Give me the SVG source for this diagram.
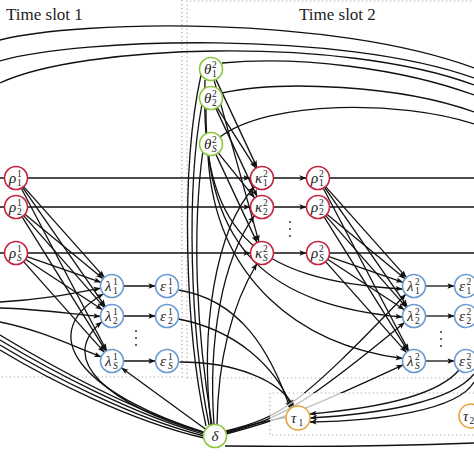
<svg xmlns="http://www.w3.org/2000/svg" width="474" height="474" viewBox="0 0 474 474">
<style>
.n circle{fill:#fff;stroke-width:1.6}
.red circle{stroke:#c3243f}
.blue circle{stroke:#6a9ad0}
.green circle{stroke:#8dc640}
.orange circle{stroke:#e6a43a}
.m{font-family:"Liberation Serif","DejaVu Serif",serif;font-style:italic;font-size:15px;fill:#222}
.s{font-size:9.5px;font-style:normal}
.si{font-size:9.5px;font-style:italic}
.e{fill:none;stroke:#111;stroke-width:1.3}
.a{marker-end:url(#ah)}
.dot{fill:none;stroke:#aaa;stroke-width:1.2;stroke-dasharray:1.2 2.8}
.lbl{font-family:"Liberation Serif","DejaVu Serif",serif;font-size:17px;fill:#222}
</style>
<defs>
<marker id="ah" markerUnits="userSpaceOnUse" markerWidth="8" markerHeight="6" refX="7" refY="2.7" orient="auto" overflow="visible"><path d="M0,0 L7,2.7 L0,5.4 L1.5,2.7 z" fill="#111"/></marker>
<clipPath id="inBox"><rect x="270" y="393" width="204" height="42"/></clipPath>
<clipPath id="outBox"><path d="M0,0H474V474H0Z M270,393V435H474V393Z" clip-rule="evenodd"/></clipPath>
<g id="thru" fill="none" stroke-width="1.3">
<path d="M226,432 C250,425 270,420 286,417.5"/>
<path d="M226,431 C280,418 300,405 406,294" marker-end="url(#ah)"/>
<path d="M226,433 C280,419 305,405 404.8,322.3" marker-end="url(#ah)"/>
<path d="M226,434 C280,420 310,408 403.1,364.8" marker-end="url(#ah)"/>
</g>
</defs>
<rect width="474" height="474" fill="#fff"/>

<g id="frames">
<path class="dot" d="M182,0V377H0"/>
<path class="dot" d="M187,378V1H474M187,378H474"/>
<path class="dot" d="M474,393H270V435H474"/>
</g>
<text class="lbl" x="6" y="20">Time slot 1</text>
<text class="lbl" x="299" y="20">Time slot 2</text>

<g id="connectors">
<path class="e" d="M0,40 C80,20 330,15 474,68"/>
<path class="e" d="M0,61 C80,38 340,30 474,78"/>
<path class="e" d="M0,83 C80,45 340,35 474,85"/>
<path class="e" d="M222,63 C300,56 400,68 474,95"/>
<path class="e" d="M222,93 C280,80 400,85 474,112"/>
<path class="e" d="M220,137 C270,100 400,100 474,124"/>
<path class="e" d="M0,178H4.5M0,207H4.5M0,253H4.5"/>
<path class="e a" d="M27.5,178H250.5"/>
<path class="e a" d="M27.5,207H250.5"/>
<path class="e a" d="M27.5,253H250.5"/>
<path class="e a" d="M23.6,186.6L104.4,277.4"/>
<path class="e a" d="M22.6,187.4L105.4,306.6"/>
<path class="e a" d="M21.3,188.2L106.7,350.8"/>
<path class="e a" d="M24.9,214.3L103.1,278.7"/>
<path class="e a" d="M23.6,215.6L104.4,307.4"/>
<path class="e a" d="M22.1,216.8L105.9,351.2"/>
<path class="e a" d="M26.9,256.7L101.1,282.3"/>
<path class="e a" d="M25.6,259.3L102.4,309.7"/>
<path class="e a" d="M23.6,261.6L104.4,352.4"/>
<path class="e a" d="M0,302 C40,300 70,294 100.7,288.2"/>
<path class="e a" d="M0,308 C40,309 70,314 100.5,316.5"/>
<path class="e a" d="M0,322 C40,330 70,345 101.3,356.9"/>
<path class="e a" d="M123.5,286H155.5"/>
<path class="e a" d="M123.5,316H155.5"/>
<path class="e a" d="M123.5,361H155.5"/>
<path class="e a" d="M425.5,286H454.5"/>
<path class="e a" d="M425.5,316H454.5"/>
<path class="e a" d="M425.5,361H454.5"/>
<path class="e a" d="M178.5,290 C240,300 270,350 290.3,408.8"/>
<path class="e a" d="M178.5,319 C235,330 275,365 292,407.6"/>
<path class="e a" d="M179.5,362 C235,362 280,380 293.9,406.7"/>
<path class="e a" d="M459,370 C438,395 380,408 309.5,414"/>
<path class="e a" d="M474,374 C452,402 380,414 310,418"/>
<path class="e a" d="M474,382 C458,410 380,421 309.5,422"/>
<path class="e a" d="M215.9,79.4L257.1,167.6"/>
<path class="e a" d="M217.2,107.7L255.8,168.3"/>
<path class="e a" d="M215.9,108.4L257.1,196.6"/>
<path class="e a" d="M218.2,152.9L254.8,198.1"/>
<path class="e a" d="M215.9,154.4L257.1,242.6"/>
<path class="e a" d="M214.1,80.1L258.9,241.9"/>
<path class="e" d="M201,75 C180,170 185,330 206,426"/>
<path class="e" d="M202,104 C186,190 190,330 209,425"/>
<path class="e" d="M203,150 C192,230 196,330 212,425"/>
<path class="e a" d="M205,80 C200,230 250,280 402.6,289"/>
<path class="e a" d="M206,109 C205,250 270,305 402.6,317"/>
<path class="e a" d="M208,156 C215,280 300,345 402.8,358.5"/>
<path class="e a" d="M211,425 C200,330 215,230 254.5,186.7"/>
<path class="e a" d="M214,425 C208,340 222,260 254.5,215.7"/>
<path class="e a" d="M217,425 C218,350 235,300 257,263.5"/>
<path class="e a" d="M205.7,429.2L121.3,367.8"/>
<path class="e a" d="M204,432 C100,400 25,340 103.5,293.7"/>
<path class="e a" d="M204,433 C110,405 55,360 102,321.7"/>
<path class="e" d="M203,432 C130,410 50,365 0,335"/>
<path class="e" d="M203,434 C130,413 50,370 0,340"/>
<path class="e" d="M204,436 C130,417 50,375 0,345"/>
<path class="e" d="M204,438 C130,421 50,380 0,350"/>
<path class="e" d="M225,446 C300,447 400,446 474,443"/>
<use href="#thru" clip-path="url(#outBox)" stroke="#111"/>
<use href="#thru" clip-path="url(#inBox)" stroke="#bdbdbd"/>
<path class="e a" d="M273.5,178H306.5"/>
<path class="e a" d="M273.5,207H306.5"/>
<path class="e a" d="M273.5,253H306.5"/>
<path class="e" d="M329.5,178H474M329.5,207H474M329.5,253H474"/>
<path class="e a" d="M325.6,186.6L406.4,277.4"/>
<path class="e a" d="M324.6,187.4L407.4,306.6"/>
<path class="e a" d="M323.3,188.2L408.7,350.8"/>
<path class="e a" d="M326.9,214.3L405.1,278.7"/>
<path class="e a" d="M325.6,215.6L406.4,307.4"/>
<path class="e a" d="M324.1,216.8L407.9,351.2"/>
<path class="e a" d="M328.9,256.7L403.1,282.3"/>
<path class="e a" d="M327.6,259.3L404.4,309.7"/>
<path class="e a" d="M325.6,261.6L406.4,352.4"/>
</g>

<g id="ellipses" fill="#333">
<circle cx="136" cy="331" r="1"/><circle cx="136" cy="338" r="1"/><circle cx="136" cy="345" r="1"/>
<circle cx="290" cy="222" r="1"/><circle cx="290" cy="229" r="1"/><circle cx="290" cy="236" r="1"/>
<circle cx="441" cy="332" r="1"/><circle cx="441" cy="339" r="1"/><circle cx="441" cy="346" r="1"/>
</g>

<g id="rho1_1" class="n red"><circle cx="16" cy="178" r="11.5"/><text class="m" x="9" y="182.5">ρ<tspan class="s" x="17" y="176.5">1</tspan><tspan class="s" x="17" y="186">1</tspan></text></g>
<g id="rho1_2" class="n red"><circle cx="16" cy="207" r="11.5"/><text class="m" x="9" y="211.5">ρ<tspan class="s" x="17" y="205.5">1</tspan><tspan class="s" x="17" y="215">2</tspan></text></g>
<g id="rho1_S" class="n red"><circle cx="16" cy="253" r="11.5"/><text class="m" x="9" y="257.5">ρ<tspan class="s" x="17" y="251.5">1</tspan><tspan class="si" x="17" y="261">S</tspan></text></g>

<g id="lambda1_1" class="n blue"><circle cx="112" cy="286" r="11.5"/><text class="m" x="105" y="290.5">λ<tspan class="s" x="113" y="284.5">1</tspan><tspan class="s" x="113" y="294">1</tspan></text></g>
<g id="lambda1_2" class="n blue"><circle cx="112" cy="316" r="11.5"/><text class="m" x="105" y="320.5">λ<tspan class="s" x="113" y="314.5">1</tspan><tspan class="s" x="113" y="324">2</tspan></text></g>
<g id="lambda1_S" class="n blue"><circle cx="112" cy="361" r="11.5"/><text class="m" x="105" y="365.5">λ<tspan class="s" x="113" y="359.5">1</tspan><tspan class="si" x="113" y="369">S</tspan></text></g>

<g id="eps1_1" class="n blue"><circle cx="167" cy="286" r="11.5"/><text class="m" x="160" y="290.5">ε<tspan class="s" x="168" y="284.5">1</tspan><tspan class="s" x="168" y="294">1</tspan></text></g>
<g id="eps1_2" class="n blue"><circle cx="167" cy="316" r="11.5"/><text class="m" x="160" y="320.5">ε<tspan class="s" x="168" y="314.5">1</tspan><tspan class="s" x="168" y="324">2</tspan></text></g>
<g id="eps1_S" class="n blue"><circle cx="167" cy="361" r="11.5"/><text class="m" x="160" y="365.5">ε<tspan class="s" x="168" y="359.5">1</tspan><tspan class="si" x="168" y="369">S</tspan></text></g>

<g id="theta2_1" class="n green"><circle cx="211" cy="69" r="11.5"/><text class="m" x="204" y="73.5">θ<tspan class="s" x="212" y="67.5">2</tspan><tspan class="s" x="212" y="77">1</tspan></text></g>
<g id="theta2_2" class="n green"><circle cx="211" cy="98" r="11.5"/><text class="m" x="204" y="102.5">θ<tspan class="s" x="212" y="96.5">2</tspan><tspan class="s" x="212" y="106">2</tspan></text></g>
<g id="theta2_S" class="n green"><circle cx="211" cy="144" r="11.5"/><text class="m" x="204" y="148.5">θ<tspan class="s" x="212" y="142.5">2</tspan><tspan class="si" x="212" y="152">S</tspan></text></g>

<g id="kappa2_1" class="n red"><circle cx="262" cy="178" r="11.5"/><text class="m" x="255" y="182.5">κ<tspan class="s" x="263" y="176.5">2</tspan><tspan class="s" x="263" y="186">1</tspan></text></g>
<g id="kappa2_2" class="n red"><circle cx="262" cy="207" r="11.5"/><text class="m" x="255" y="211.5">κ<tspan class="s" x="263" y="205.5">2</tspan><tspan class="s" x="263" y="215">2</tspan></text></g>
<g id="kappa2_S" class="n red"><circle cx="262" cy="253" r="11.5"/><text class="m" x="255" y="257.5">κ<tspan class="s" x="263" y="251.5">2</tspan><tspan class="si" x="263" y="261">S</tspan></text></g>

<g id="rho2_1" class="n red"><circle cx="318" cy="178" r="11.5"/><text class="m" x="311" y="182.5">ρ<tspan class="s" x="319" y="176.5">2</tspan><tspan class="s" x="319" y="186">1</tspan></text></g>
<g id="rho2_2" class="n red"><circle cx="318" cy="207" r="11.5"/><text class="m" x="311" y="211.5">ρ<tspan class="s" x="319" y="205.5">2</tspan><tspan class="s" x="319" y="215">2</tspan></text></g>
<g id="rho2_S" class="n red"><circle cx="318" cy="253" r="11.5"/><text class="m" x="311" y="257.5">ρ<tspan class="s" x="319" y="251.5">2</tspan><tspan class="si" x="319" y="261">S</tspan></text></g>

<g id="lambda2_1" class="n blue"><circle cx="414" cy="286" r="11.5"/><text class="m" x="407" y="290.5">λ<tspan class="s" x="415" y="284.5">2</tspan><tspan class="s" x="415" y="294">1</tspan></text></g>
<g id="lambda2_2" class="n blue"><circle cx="414" cy="316" r="11.5"/><text class="m" x="407" y="320.5">λ<tspan class="s" x="415" y="314.5">2</tspan><tspan class="s" x="415" y="324">2</tspan></text></g>
<g id="lambda2_S" class="n blue"><circle cx="414" cy="361" r="11.5"/><text class="m" x="407" y="365.5">λ<tspan class="s" x="415" y="359.5">2</tspan><tspan class="si" x="415" y="369">S</tspan></text></g>

<g id="eps2_1" class="n blue"><circle cx="466" cy="286" r="11.5"/><text class="m" x="459" y="290.5">ε<tspan class="s" x="466.5" y="284.5">2</tspan><tspan class="s" x="466.5" y="294">1</tspan></text></g>
<g id="eps2_2" class="n blue"><circle cx="466" cy="316" r="11.5"/><text class="m" x="459" y="320.5">ε<tspan class="s" x="466.5" y="314.5">2</tspan><tspan class="s" x="466.5" y="324">2</tspan></text></g>
<g id="eps2_S" class="n blue"><circle cx="466" cy="361" r="11.5"/><text class="m" x="459" y="365.5">ε<tspan class="s" x="466.5" y="359.5">2</tspan><tspan class="si" x="466.5" y="369">S</tspan></text></g>

<g id="delta" class="n green"><circle cx="215" cy="436" r="11.5"/><text class="m" x="215" y="441" text-anchor="middle">δ</text></g>
<g id="tau1" class="n orange"><circle cx="298" cy="418" r="12"/><text class="m" x="291" y="422.5">τ<tspan class="s" x="298.5" y="425.5">1</tspan></text></g>
<g id="tau2" class="n orange"><circle cx="471" cy="416" r="12"/><text class="m" x="463" y="420.5">τ<tspan class="s" x="469.5" y="423.5" font-size="8">2</tspan></text></g>
</svg>
